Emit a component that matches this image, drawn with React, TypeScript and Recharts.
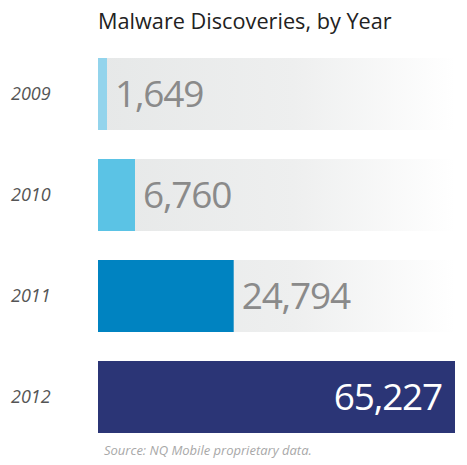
import React from 'react';
import { BarChart, Bar, XAxis, YAxis, LabelList, Cell } from 'recharts';

const years = ['2009', '2010', '2011', '2012'];
const discoveries = [1649, 6760, 24794, 65227];
const barColors = ['#93d4ec', '#5bc3e5', '#0083c1', '#2b3576'];

const title = 'Malware Discoveries, by Year';
const source = 'Source: NQ Mobile proprietary data.';

const data = years.map((year, i) => ({ year, value: discoveries[i] }));
const maxValue = Math.max(...discoveries);

const FONT = '"Open Sans", "Noto Sans", sans-serif';

const YearTick = ({ y, payload }: any) => (
  <text x={11} y={y} dy={6} textAnchor="start" fontFamily={FONT} fontStyle="italic" fontSize={18} fill="#555">
    {payload.value}
  </text>
);

const ValueLabel = ({ x, y, width, height, value }: any) => {
  const isMax = value === maxValue;
  const label = Number(value).toLocaleString('en-US');
  return (
    <text
      x={isMax ? x + width - 13 : x + width + 8}
      y={y + height / 2}
      dy={13}
      textAnchor={isMax ? 'end' : 'start'}
      fontFamily={FONT}
      fontSize={37}
      letterSpacing={-1.2}
      fill={isMax ? '#ffffff' : '#8a8a8a'}
    >
      {label}
    </text>
  );
};

export default function App() {
  return (
    <div style={{ position: 'absolute', left: 0, top: 0, width: 467, height: 465, background: '#fff' }}>
      <BarChart
        width={467}
        height={465}
        data={data}
        layout="vertical"
        margin={{ top: 43, right: 12, bottom: 18, left: 0 }}
        barSize={72}
      >
        <defs>
          <linearGradient id="trackFade" x1="0" y1="0" x2="1" y2="0">
            <stop offset="0%" stopColor="#e6e8e8" />
            <stop offset="55%" stopColor="#eeefef" />
            <stop offset="100%" stopColor="#ffffff" />
          </linearGradient>
        </defs>
        <text x={98} y={29} fontFamily={FONT} fontSize={21.7} fill="#222">
          {title}
        </text>
        <XAxis type="number" domain={[0, maxValue]} hide />
        <YAxis type="category" dataKey="year" width={98} axisLine={false} tickLine={false} tick={<YearTick />} />
        <Bar dataKey="value" isAnimationActive={false} background={{ fill: 'url(#trackFade)' }}>
          {data.map((d, i) => (
            <Cell key={d.year} fill={barColors[i]} />
          ))}
          <LabelList dataKey="value" content={<ValueLabel />} />
        </Bar>
        <text x={104} y={455} fontFamily={FONT} fontStyle="italic" fontSize={13} fill="#a8a8a8">
          {source}
        </text>
      </BarChart>
    </div>
  );
}
